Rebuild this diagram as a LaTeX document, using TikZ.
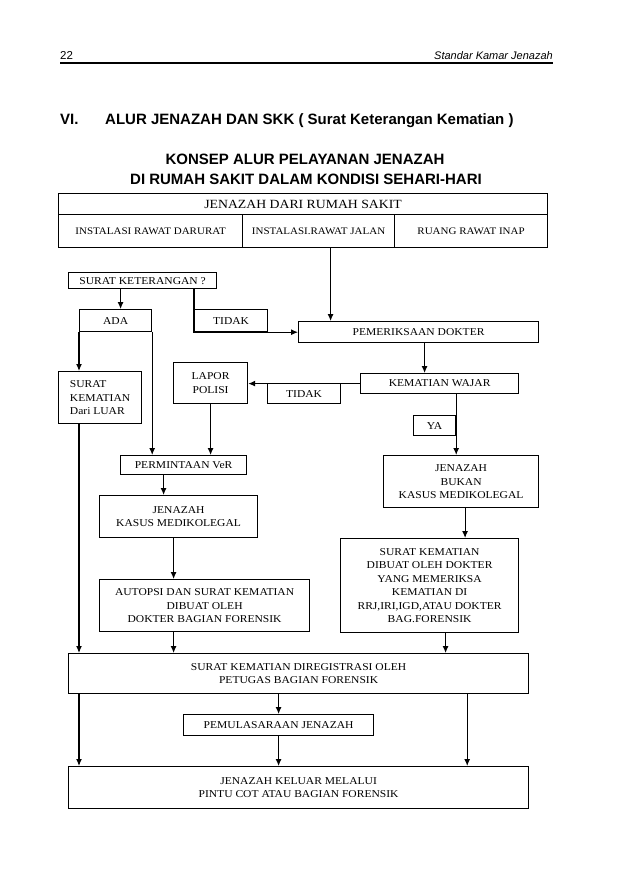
\documentclass[tikz,border=0pt]{standalone}
\usepackage{fontspec}
\setmainfont[FakeStretch=1.1]{Liberation Serif}
\newfontfamily\headfont{Liberation Sans}
\usetikzlibrary{arrows.meta}

\begin{document}
\begin{tikzpicture}[x=1pt, y=-1pt,
    box/.style={draw, line width=1.2pt, inner sep=0pt, anchor=north west, align=center,
        font=\fontsize{10.5}{13.5}\selectfont},
    head/.style={inner sep=0pt, font=\headfont\bfseries\fontsize{15}{18}\selectfont},
    arr/.style={line width=1.1pt, -{Latex[length=7pt,width=6pt]}}
]
\fill[white] (0,0) rectangle (638,885);
\useasboundingbox (0,0) rectangle (638,885);

% page header
\node [anchor=base west, inner sep=0pt, font=\headfont\fontsize{11.5}{13}\selectfont] (hal) at (60,60) {22};
\node [anchor=base east, inner sep=0pt, font=\headfont\itshape\fontsize{11}{13}\selectfont] (buku) at (553,60) {Standar Kamar Jenazah};
\draw [line width=1.3pt] (60,63) -- (553,63);

% titles
\node [head, anchor=base west] (bab) at (60,125) {VI.};
\node [head, anchor=base west] (babjudul) at (105,125) {ALUR JENAZAH DAN SKK ( Surat Keterangan Kematian )};
\node [head, anchor=base] (konsep1) at (305,165) {KONSEP ALUR PELAYANAN JENAZAH};
\node [head, anchor=base] (konsep2) at (306,185) {DI RUMAH SAKIT DALAM KONDISI SEHARI-HARI};

% hospital units
\node [box, minimum width=489, minimum height=21, font=\fontsize{12.5}{15}\selectfont] (rs) at (58,193) {JENAZAH DARI RUMAH SAKIT};
\node [box, minimum width=184, minimum height=33, font=\fontsize{10}{12}\selectfont] (darurat) at (58,214) {INSTALASI RAWAT DARURAT};
\node [box, minimum width=152, minimum height=33, font=\fontsize{10}{12}\selectfont] (jalan) at (242,214) {INSTALASI.RAWAT JALAN};
\node [box, minimum width=153, minimum height=33, font=\fontsize{10}{12}\selectfont] (inap) at (394,214) {RUANG RAWAT INAP};

% left branch
\node [box, minimum width=148, minimum height=16] (sket) at (68,272) {SURAT KETERANGAN ?};
\node [box, minimum width=72, minimum height=22] (ada) at (79,309) {ADA};
\node [box, minimum width=73, minimum height=22] (tidaka) at (194,309) {TIDAK};
\node [box, minimum width=83, minimum height=52, align=left] (luar) at (58,371) {SURAT\\KEMATIAN\\Dari LUAR};
\node [box, minimum width=74, minimum height=41] (lapor) at (173,362) {LAPOR\\POLISI};
\node [box, minimum width=126, minimum height=19] (verr) at (120,455) {PERMINTAAN VeR};
\node [box, minimum width=158, minimum height=42] (kasus) at (99,495) {JENAZAH\\KASUS MEDIKOLEGAL};
\node [box, minimum width=210, minimum height=52] (autopsi) at (99,579) {AUTOPSI DAN SURAT KEMATIAN\\DIBUAT OLEH\\DOKTER BAGIAN FORENSIK};

% right branch
\node [box, minimum width=240, minimum height=21] (dokter) at (298,321) {PEMERIKSAAN DOKTER};
\node [box, minimum width=158, minimum height=20] (wajar) at (360,373) {KEMATIAN WAJAR};
\node [box, minimum width=73, minimum height=20] (tidakb) at (267,383) {TIDAK};
\node [box, minimum width=42, minimum height=20] (ya) at (413,415) {YA};
\node [box, minimum width=155, minimum height=52] (bukan) at (383,455) {JENAZAH\\BUKAN\\KASUS MEDIKOLEGAL};
\node [box, minimum width=178, minimum height=94] (skdok) at (340,538) {SURAT KEMATIAN\\DIBUAT OLEH DOKTER\\YANG MEMERIKSA\\KEMATIAN DI\\RRJ,IRI,IGD,ATAU DOKTER\\BAG.FORENSIK};

% bottom
\node [box, minimum width=460, minimum height=40] (reg) at (68,653) {SURAT KEMATIAN DIREGISTRASI OLEH\\PETUGAS BAGIAN FORENSIK};
\node [box, minimum width=190, minimum height=21] (pem) at (183,714) {PEMULASARAAN JENAZAH};
\node [box, minimum width=460, minimum height=42] (keluar) at (68,766) {JENAZAH KELUAR MELALUI\\PINTU COT ATAU BAGIAN FORENSIK};

% connectors
\draw [arr] ([xshift=12pt]jalan.south) -- ([xshift=12pt]jalan.south |- dokter.north);
\draw [arr] ([xshift=5pt]ada.north |- sket.south) -- ([xshift=5pt]ada.north);
\draw [arr] (sket.south -| tidaka.west) -- (tidaka.south west) -- (tidaka.south west -| dokter.west);
\draw [arr] (ada.south west) -- (ada.south west |- luar.north);
\draw [arr] (ada.south east) -- (ada.south east |- verr.north);
\draw [arr] ([xshift=6pt]dokter.south) -- ([xshift=6pt]dokter.south |- wajar.north);
\draw [arr] (wajar.west) -- (wajar.west -| lapor.east);
\draw [arr] (ya.north east |- wajar.south) -- (ya.north east |- bukan.north);
\draw [arr] (lapor.south) -- (lapor.south |- verr.north);
\draw [arr] ([xshift=-20pt]verr.south) -- ([xshift=-20pt]verr.south |- kasus.north);
\draw [arr] ([xshift=-5pt]kasus.south) -- ([xshift=-5pt]kasus.south |- autopsi.north);
\draw [arr] ([xshift=-5pt]kasus.south |- autopsi.south) -- ([xshift=-5pt]kasus.south |- reg.north);
\draw [arr] (ada.west |- luar.south) -- (ada.west |- reg.north);
\draw [arr] ([xshift=4pt]bukan.south) -- ([xshift=4pt]bukan.south |- skdok.north);
\draw [arr] ([xshift=16pt]skdok.south) -- ([xshift=16pt]skdok.south |- reg.north);
\draw [arr] (ada.west |- reg.south) -- (ada.west |- keluar.north);
\draw [arr] (pem.north |- reg.south) -- (pem.north);
\draw [arr] (pem.south) -- (pem.south |- keluar.north);
\draw [arr] ([xshift=-62pt]reg.south east) -- ([xshift=-62pt]keluar.north east);

\end{tikzpicture}
\end{document}
